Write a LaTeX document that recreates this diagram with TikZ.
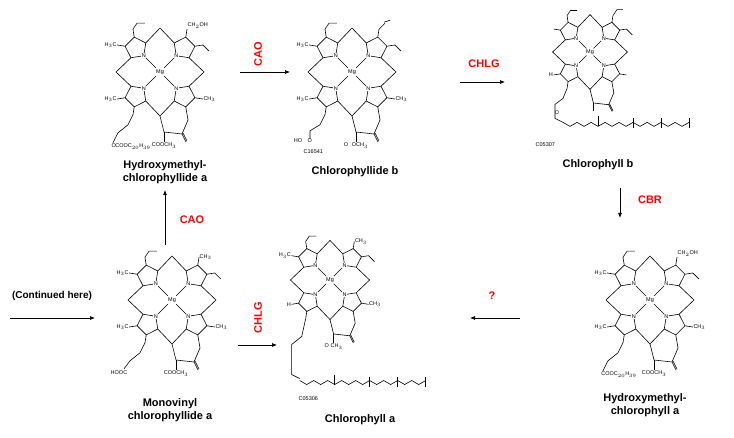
\documentclass[tikz,border=0pt]{standalone}
\usepackage{fontspec}
\setmainfont{Liberation Sans}
\usetikzlibrary{calc,arrows.meta}
\begin{document}
\begin{tikzpicture}[x=1pt,y=-1pt,
  bond/.style={line width=0.6pt},
  sub/.style={font=\fontsize{5.5}{6}\selectfont,inner sep=0.5pt},
  lab/.style={font=\fontsize{11}{13}\selectfont\bfseries,align=center},
  enz/.style={font=\fontsize{11}{13}\selectfont\bfseries,text=red},
  arr/.style={-{Latex[length=5pt,width=4pt]},line width=0.7pt},
  core/.pic={
    \foreach \t in {45,135,225,315}{
      \foreach \k in {0,...,4}{
        \coordinate (-r\t-\k) at ($(\t:34)+(\t+180+72*\k:11)$);
        \coordinate (-s\t-\k) at ($(\t:34)+(\t+180+72*\k:19)$);
      }
      \draw[bond] (-r\t-0)--(-r\t-1)--(-r\t-2)--(-r\t-3)--(-r\t-4)--cycle;
      \draw[bond] (-r\t-0)--(\t:6);
      \node[sub,fill=white] at (-r\t-0) {N};
    }
    \foreach \t/\u in {45/135,135/225,225/315,315/45}{
      \draw[bond] (-r\t-4)--($(\t:0)+(\t+45:44)$)--(-r\u-1);
    }
    \node[sub,fill=white] at (0,0) {Mg};
    \draw[bond] (-r225-2)--(-s225-2) (-r225-3)--(-s225-3)
      (-r315-2)--(-s315-2) (-r315-3)--(-s315-3)
      (-r45-2)--(-s45-2) (-r135-2)--(-s135-2) (-r135-3)--(-s135-3);
    \coordinate (-e1) at (90:44);
    \draw[bond] (-e1)--(4,60)--(22,62)--(28,48)--(-r45-3);
    \draw[bond] (22,62)--(26,70) (23,61)--(27,69);
    \draw[bond] (4,60)--(4,70);
    \coordinate (-e2) at (4,70);
    \draw[bond] (-s225-3)--++(4,-6)--++(8,0);
  },
  phyt/.pic={
    \draw[bond] (0,0) \foreach \i in {1,...,18}{ -- ++(7,{mod(\i,2)*8-4}) };
    \draw[bond] (35,4)--(35,-6) (70,-4)--(70,6) (98,-4)--(98,6) (126,-4)--(126,6);
  }]
\useasboundingbox (0,0) rectangle (734,438);
% molecule 1
\pic (a) at (160,72) {core};
\node[sub,anchor=east] at (a-s225-2) {H$_3$C};
\node[sub,anchor=south west] at (a-s315-2) {CH$_2$OH};
\draw[bond] (a-s315-3)--++(6,6);
\node[sub,anchor=west] at (a-s45-2) {CH$_3$};
\node[sub,anchor=east] at (a-s135-3) {H$_3$C};
\node[sub,anchor=north] at (a-e2) {COOCH$_3$};
\draw[bond] (a-s135-2)--++(-5,10)--++(-10,8)--++(-5,10);
\node[sub,anchor=north west] at ($(a-s135-2)+(-22,28)$) {O};
\node[sub] at ($(a-s135-2)+(0,32)$) {COOC$_{20}$H$_{39}$};
\node[lab] at (165,172) {Hydroxymethyl-\\chlorophyllide a};
% molecule 2
\pic (b) at (352,72) {core};
\node[sub,anchor=east] at (b-s225-2) {H$_3$C};
\draw[bond] (b-s315-2)--++(6,-6) (b-s315-2)++(5,-7)--++(6,-2);
\draw[bond] (b-s315-3)--++(6,6);
\node[sub,anchor=west] at (b-s45-2) {CH$_3$};
\node[sub,anchor=east] at (b-s135-3) {H$_3$C};
\node[sub,anchor=north] at (b-e2) {O\,\,\,\,OCH$_3$};
\draw[bond] (b-s135-2)--++(-5,10)--++(-10,6)--++(0,8);
\node[sub] at ($(b-s135-2)+(-22,26)$) {HO\quad O};
\node[sub,anchor=west] at (303,152) {C16541};
\node[lab] at (355,172) {Chlorophyllide b};
% molecule 3
\pic[scale=0.85] (c) at (590,52) {core};
\draw[bond] (c-s315-2)--++(4,-6)--++(6,0);
\draw[bond] (c-s315-3)--++(6,6);
\node[sub,anchor=east] at (c-s135-3) {H};
\draw[bond] (c-s135-2)--++(-4,10)--++(-8,6)--++(0,14)--++(8,4);
\node[sub] at ($(c-s135-2)+(-10,24)$) {O};
\pic at ($(c-s135-2)+(-4,34)$) {phyt};
\node[sub,anchor=west] at (535,145) {C05307};
\node[lab] at (598,165) {Chlorophyll b};
% molecule 4
\pic (d) at (650,300) {core};
\node[sub,anchor=east] at (d-s225-2) {H$_3$C};
\node[sub,anchor=south west] at (d-s315-2) {CH$_2$OH};
\draw[bond] (d-s315-3)--++(6,6);
\node[sub,anchor=west] at (d-s45-2) {CH$_3$};
\node[sub,anchor=east] at (d-s135-3) {H$_3$C};
\node[sub,anchor=north] at (d-e2) {COOCH$_3$};
\draw[bond] (d-s135-2)--++(-5,10)--++(-10,8)--++(-5,10);
\node[sub] at ($(d-s135-2)+(-4,32)$) {COOC$_{20}$H$_{39}$};
\node[lab] at (645,405) {Hydroxymethyl-\\chlorophyll a};
% molecule 5
\pic[scale=0.9] (e) at (330,280) {core};
\node[sub,anchor=east] at (e-s225-2) {H$_3$C};
\node[sub,anchor=west] at (e-s315-2) {CH$_3$};
\draw[bond] (e-s315-3)--++(6,6);
\node[sub,anchor=west] at (e-s45-2) {CH$_3$};
\node[sub,anchor=east] at (e-s135-3) {H};
\node[sub,anchor=north] at (e-e2) {O\,\,CH$_3$};
\draw[bond] (e-s135-2)--++(-4,18)--++(-10,8)--++(0,30)--++(8,4);
\pic at ($(e-s135-2)+(-6,62)$) {phyt};
\node[sub,anchor=west] at (298,399) {C05306};
\node[lab] at (360,420) {Chlorophyll a};
% molecule 6
\pic (f) at (172,300) {core};
\node[sub,anchor=east] at (f-s225-2) {H$_3$C};
\node[sub,anchor=west] at (f-s315-2) {CH$_3$};
\draw[bond] (f-s315-3)--++(6,6);
\node[sub,anchor=west] at (f-s45-2) {CH$_3$};
\node[sub,anchor=east] at (f-s135-3) {H$_3$C};
\node[sub,anchor=north] at (f-e2) {COOCH$_3$};
\draw[bond] (f-s135-2)--++(-5,10)--++(-10,8)--++(-6,8);
\node[sub] at ($(f-s135-2)+(-26,30)$) {HOOC};
\node[lab] at (170,410) {Monovinyl\\chlorophyllide a};
% arrows
\coordinate (p1) at (240,72); \coordinate (p2) at (290,72);
\draw[arr] (p1)--(p2);
\node[enz,rotate=90] at (258,54) {CAO};
\coordinate (p3) at (460,82); \coordinate (p4) at (505,82);
\draw[arr] (p3)--(p4);
\node[enz] at (484,64) {CHLG};
\coordinate (p5) at (620,188); \coordinate (p6) at (620,218);
\draw[arr] (p5)--(p6);
\node[enz] at (650,200) {CBR};
\coordinate (p7) at (165,245); \coordinate (p8) at (165,190);
\draw[arr] (p7)--(p8);
\node[enz] at (192,220) {CAO};
\coordinate (p9) at (10,318); \coordinate (p10) at (95,318);
\draw[arr] (p9)--(p10);
\node[font=\fontsize{10}{12}\selectfont\bfseries] at (52,296) {(Continued here)};
\coordinate (p11) at (238,345); \coordinate (p12) at (277,345);
\draw[arr] (p11)--(p12);
\node[enz,rotate=90] at (258,318) {CHLG};
\coordinate (p13) at (520,318); \coordinate (p14) at (470,318);
\draw[arr] (p13)--(p14);
\node[enz] at (492,296) {?};
\end{tikzpicture}
\end{document}
